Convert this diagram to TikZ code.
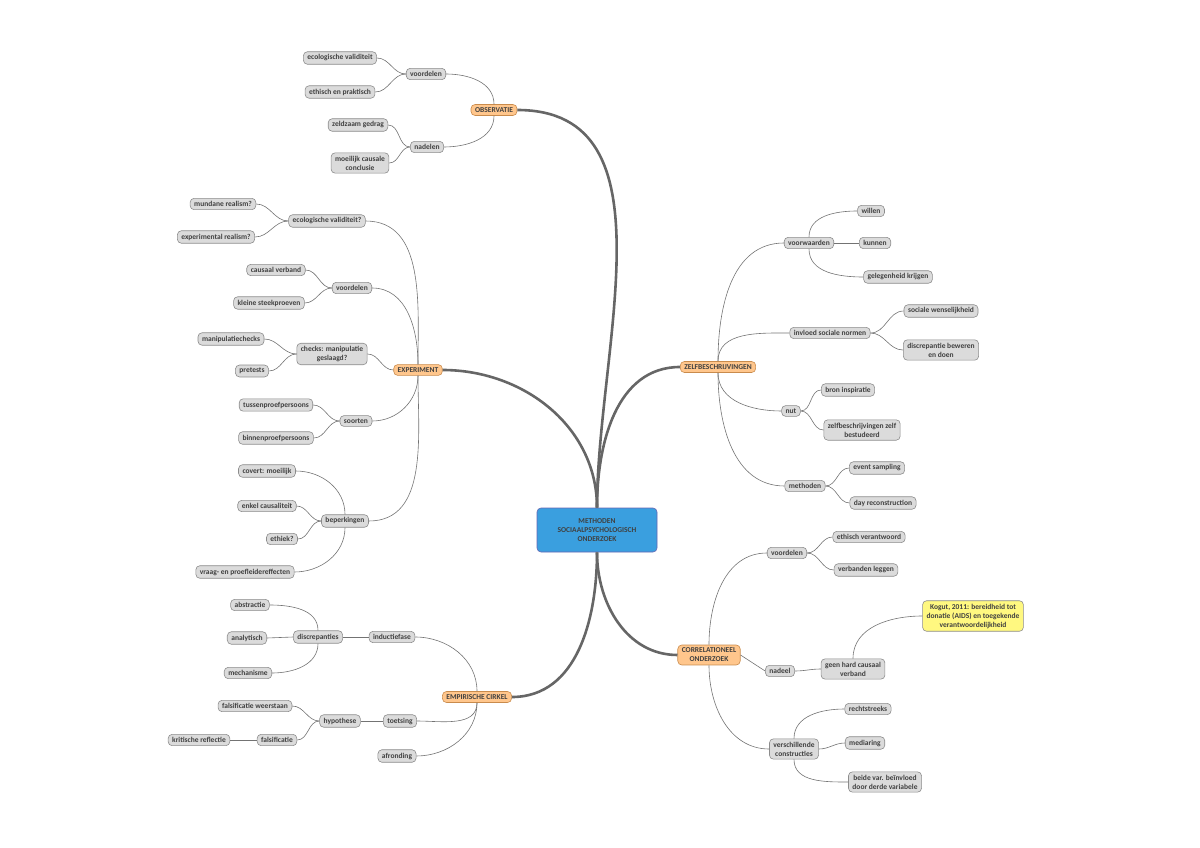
\documentclass[tikz,border=0pt]{standalone}
\usepackage{fontspec}
\setmainfont{Carlito}
\begin{document}
\begin{tikzpicture}[x=1pt,y=-1pt,
 base/.style={rounded corners=4pt,draw=black!45,line width=0.6pt,inner xsep=4pt,inner ysep=3pt,align=center,
   font=\fontsize{7.5}{9}\selectfont\bfseries,text=black!75},
 leaf/.style={base,fill=black!14},
 br/.style={base,fill=orange!45,draw=orange!70!black!70},
 root/.style={base,fill=cyan!75!blue!80!white,draw=blue!50!black!60,minimum width=120pt,minimum height=44pt},
 yel/.style={base,fill=yellow!50,draw=black!45},
 lk/.style={draw=black!55,line width=0.6pt},
 th/.style={draw=black!60,line width=2.6pt}]
\useasboundingbox (0,0) rectangle (1200,848);
\node[root] (c) at (597,530) {METHODEN\\SOCIAALPSYCHOLOGISCH\\ONDERZOEK};
\node[br] (obs) at (494,110) {OBSERVATIE};
\node[br] (exp) at (418,370) {EXPERIMENT};
\node[br] (emp) at (477,697) {EMPIRISCHE CIRKEL};
\node[br] (zelf) at (718,367) {ZELFBESCHRIJVINGEN};
\node[br] (cor) at (709,655) {CORRELATIONEEL\\ONDERZOEK};
\draw[th] (c.north) to[out=90,in=0] (obs.east);
\draw[th] (c.north) to[out=90,in=0] (exp.east);
\draw[th] (c.north) to[out=90,in=180] (zelf.west);
\draw[th] (c.south) to[out=-90,in=0] (emp.east);
\draw[th] (c.south) to[out=-90,in=180] (cor.west);
% OBSERVATIE
\node[leaf] (ov) at (426,74) {voordelen};
\node[leaf] (ov1) at (340,58) {ecologische validiteit};
\node[leaf] (ov2) at (340,92) {ethisch en praktisch};
\node[leaf] (on) at (427,147) {nadelen};
\node[leaf] (on1) at (358,125) {zeldzaam gedrag};
\node[leaf] (on2) at (360,163) {moeilijk causale\\conclusie};
\draw[lk] (obs.north) to[out=90,in=0] (ov.east);
\draw[lk] (obs.south) to[out=-90,in=0] (on.east);
\foreach \p/\q in {ov/ov1,ov/ov2,on/on1,on/on2} \draw[lk] (\p.west) to[out=180,in=0] (\q.east);
% EXPERIMENT
\node[leaf] (e1) at (327,221) {ecologische validiteit?};
\node[leaf] (e11) at (223,204) {mundane realism?};
\node[leaf] (e12) at (216,237) {experimental realism?};
\node[leaf] (e2) at (352,288) {voordelen};
\node[leaf] (e21) at (276,270) {causaal verband};
\node[leaf] (e22) at (269,303) {kleine steekproeven};
\node[leaf] (e3) at (332,354) {checks: manipulatie\\geslaagd?};
\node[leaf] (e31) at (231,339) {manipulatiechecks};
\node[leaf] (e32) at (252,371) {pretests};
\node[leaf] (e4) at (356,421) {soorten};
\node[leaf] (e41) at (276,405) {tussenproefpersoons};
\node[leaf] (e42) at (276,438) {binnenproefpersoons};
\node[leaf] (e5) at (345,521) {beperkingen};
\node[leaf] (e51) at (267,471) {covert: moeilijk};
\node[leaf] (e52) at (267,506) {enkel causaliteit};
\node[leaf] (e53) at (282,539) {ethiek?};
\node[leaf] (e54) at (245,572) {vraag- en proefleidereffecten};
\draw[lk] (exp.north) to[out=90,in=0] (e1.east);
\draw[lk] (exp.north) to[out=90,in=0] (e2.east);
\draw[lk] (exp.west) to[out=180,in=0] (e3.east);
\draw[lk] (exp.south) to[out=-90,in=0] (e4.east);
\draw[lk] (exp.south) to[out=-90,in=0] (e5.east);
\foreach \p/\q in {e1/e11,e1/e12,e2/e21,e2/e22,e3/e31,e3/e32,e4/e41,e4/e42,e5/e52,e5/e53} \draw[lk] (\p.west) to[out=180,in=0] (\q.east);
\draw[lk] (e5.north) to[out=90,in=0] (e51.east);
\draw[lk] (e5.south) to[out=-90,in=0] (e54.east);
% EMPIRISCHE CIRKEL
\node[leaf] (i) at (392,637) {inductiefase};
\node[leaf] (d) at (318,637) {discrepanties};
\node[leaf] (d1) at (250,605) {abstractie};
\node[leaf] (d2) at (247,638) {analytisch};
\node[leaf] (d3) at (248,673) {mechanisme};
\node[leaf] (t) at (400,721) {toetsing};
\node[leaf] (h) at (340,721) {hypothese};
\node[leaf] (h1) at (255,706) {falsificatie weerstaan};
\node[leaf] (h2) at (277,740) {falsificatie};
\node[leaf] (k) at (199,740) {kritische reflectie};
\node[leaf] (a) at (397,756) {afronding};
\draw[lk] (emp.north) to[out=90,in=0] (i.east);
\draw[lk] (emp.south) to[out=-90,in=0] (t.east);
\draw[lk] (emp.south) to[out=-90,in=0] (a.east);
\draw[lk] (i.west) -- (d.east);
\draw[lk] (t.west) -- (h.east);
\draw[lk] (d.north) to[out=90,in=0] (d1.east);
\draw[lk] (d.west) -- (d2.east);
\draw[lk] (d.south) to[out=-90,in=0] (d3.east);
\draw[lk] (h.west) to[out=180,in=0] (h1.east);
\draw[lk] (h.west) to[out=180,in=0] (h2.east);
\draw[lk] (h2.west) -- (k.east);
% ZELFBESCHRIJVINGEN
\node[leaf] (z1) at (809,243) {voorwaarden};
\node[leaf] (z11) at (871,211) {willen};
\node[leaf] (z12) at (875,243) {kunnen};
\node[leaf] (z13) at (898,277) {gelegenheid krijgen};
\node[leaf] (z2) at (830,333) {invloed sociale normen};
\node[leaf] (z21) at (941,311) {sociale wenselijkheid};
\node[leaf] (z22) at (941,350) {discrepantie beweren\\en doen};
\node[leaf] (z3) at (791,411) {nut};
\node[leaf] (z31) at (848,390) {bron inspiratie};
\node[leaf] (z32) at (862,430) {zelfbeschrijvingen zelf\\bestudeerd};
\node[leaf] (z4) at (805,486) {methoden};
\node[leaf] (z41) at (877,468) {event sampling};
\node[leaf] (z42) at (883,503) {day reconstruction};
\draw[lk] (zelf.north) to[out=90,in=180] (z1.west);
\draw[lk] (zelf.north) to[out=90,in=180] (z2.west);
\draw[lk] (zelf.south) to[out=-90,in=180] (z3.west);
\draw[lk] (zelf.south) to[out=-90,in=180] (z4.west);
\draw[lk] (z1.north) to[out=90,in=180] (z11.west);
\draw[lk] (z1.east) -- (z12.west);
\draw[lk] (z1.south) to[out=-90,in=180] (z13.west);
\foreach \p/\q in {z2/z21,z2/z22,z3/z31,z3/z32,z4/z41,z4/z42} \draw[lk] (\p.east) to[out=0,in=180] (\q.west);
% CORRELATIONEEL
\node[leaf] (c1) at (787,553) {voordelen};
\node[leaf] (c11) at (869,537) {ethisch verantwoord};
\node[leaf] (c12) at (866,570) {verbanden leggen};
\node[leaf] (c2) at (780,671) {nadeel};
\node[leaf] (c21) at (853,669) {geen hard causaal\\verband};
\node[yel] (kg) at (973,616) {Kogut, 2011: bereidheid tot\\donatie (AIDS) en toegekende\\verantwoordelijkheid};
\node[leaf] (c3) at (794,749) {verschillende\\constructies};
\node[leaf] (c31) at (868,709) {rechtstreeks};
\node[leaf] (c32) at (865,743) {mediaring};
\node[leaf] (c33) at (885,782) {beide var. beïnvloed\\door derde variabele};
\draw[lk] (cor.north) to[out=90,in=180] (c1.west);
\draw[lk] (cor.east) -- (c2.west);
\draw[lk] (cor.south) to[out=-90,in=180] (c3.west);
\foreach \p/\q in {c1/c11,c1/c12,c2/c21} \draw[lk] (\p.east) to[out=0,in=180] (\q.west);
\draw[lk] (c21.north) to[out=90,in=180] (kg.west);
\draw[lk] (c3.north) to[out=90,in=180] (c31.west);
\draw[lk] (c3.east) to[out=0,in=180] (c32.west);
\draw[lk] (c3.south) to[out=-90,in=180] (c33.west);
\end{tikzpicture}
\end{document}
